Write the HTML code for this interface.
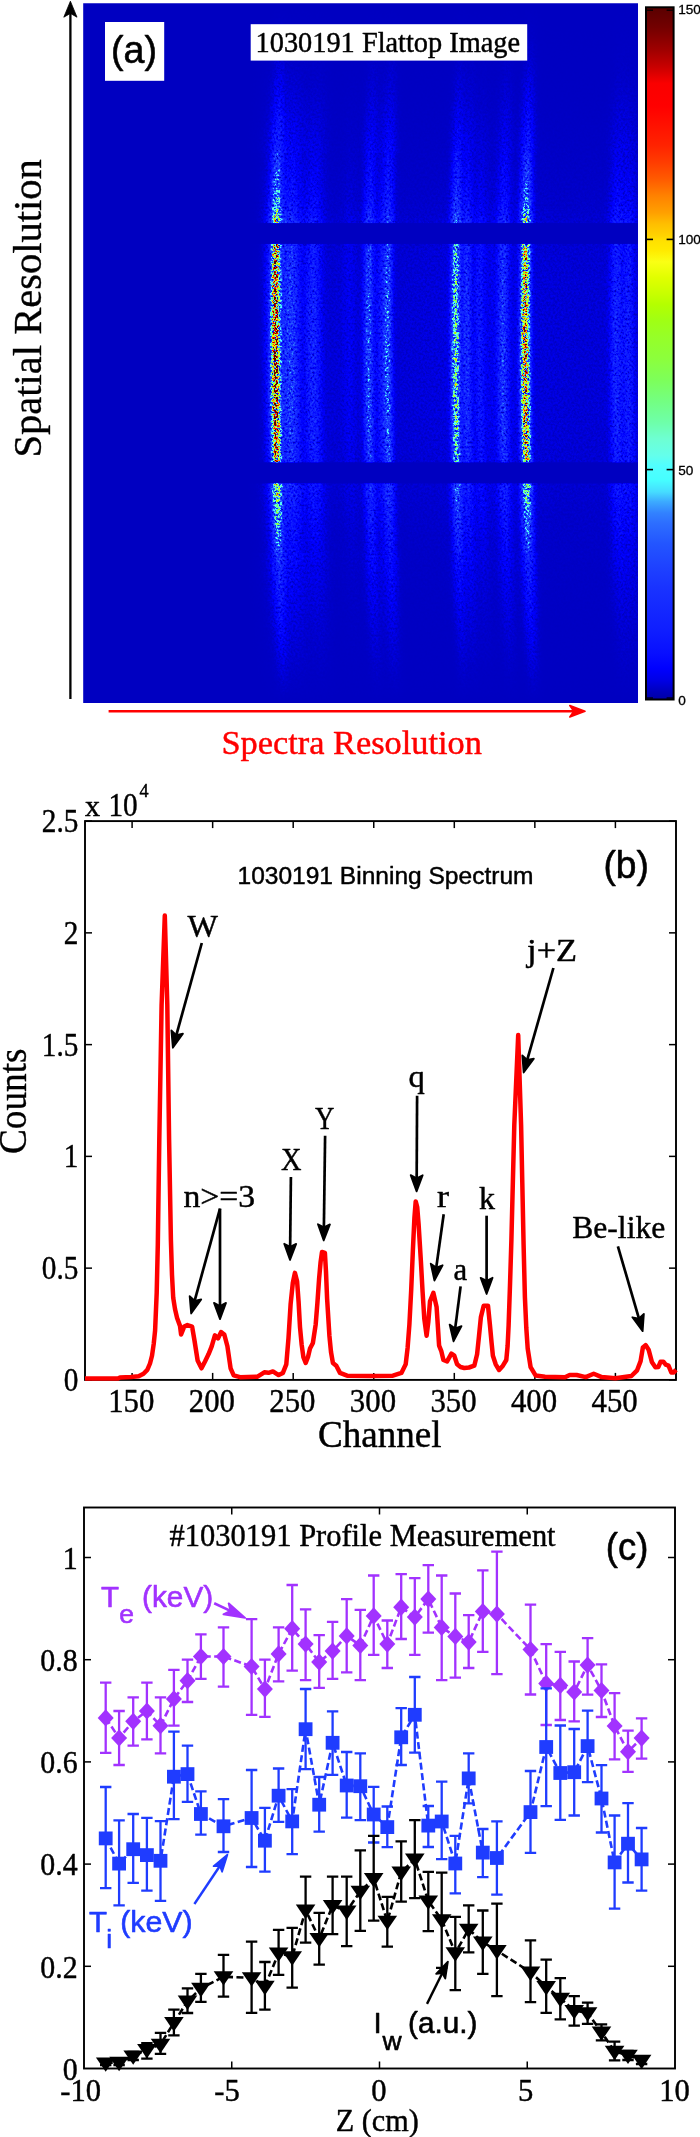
<!DOCTYPE html>
<html><head><meta charset="utf-8"><title>figure</title>
<style>html,body{margin:0;padding:0;background:#fff}svg{display:block;will-change:transform}</style></head><body>
<svg width="700" height="2137" viewBox="0 0 700 2137">
<rect x="0" y="0" width="700" height="2137" fill="#fff"/>
<defs>
<linearGradient id="gS" gradientUnits="userSpaceOnUse" x1="83.2" y1="0" x2="638" y2="0">
<stop offset="0.0000" stop-color="#000000"/>
<stop offset="0.3019" stop-color="#010101"/>
<stop offset="0.3127" stop-color="#060606"/>
<stop offset="0.3199" stop-color="#111111"/>
<stop offset="0.3235" stop-color="#1a1a1a"/>
<stop offset="0.3298" stop-color="#303030"/>
<stop offset="0.3326" stop-color="#3e3e3e"/>
<stop offset="0.3344" stop-color="#4c4c4c"/>
<stop offset="0.3362" stop-color="#606060"/>
<stop offset="0.3380" stop-color="#7b7b7b"/>
<stop offset="0.3416" stop-color="#b8b8b8"/>
<stop offset="0.3434" stop-color="#d2d2d2"/>
<stop offset="0.3443" stop-color="#dbdbdb"/>
<stop offset="0.3452" stop-color="#e2e2e2"/>
<stop offset="0.3461" stop-color="#e5e5e5"/>
<stop offset="0.3470" stop-color="#e5e5e5"/>
<stop offset="0.3479" stop-color="#e1e1e1"/>
<stop offset="0.3488" stop-color="#dbdbdb"/>
<stop offset="0.3497" stop-color="#d1d1d1"/>
<stop offset="0.3515" stop-color="#b7b7b7"/>
<stop offset="0.3551" stop-color="#7f7f7f"/>
<stop offset="0.3569" stop-color="#696969"/>
<stop offset="0.3587" stop-color="#5c5c5c"/>
<stop offset="0.3605" stop-color="#565656"/>
<stop offset="0.3632" stop-color="#555555"/>
<stop offset="0.3722" stop-color="#606060"/>
<stop offset="0.3767" stop-color="#5f5f5f"/>
<stop offset="0.3812" stop-color="#565656"/>
<stop offset="0.3920" stop-color="#333333"/>
<stop offset="0.3956" stop-color="#2d2d2d"/>
<stop offset="0.3992" stop-color="#303030"/>
<stop offset="0.4101" stop-color="#4a4a4a"/>
<stop offset="0.4146" stop-color="#4e4e4e"/>
<stop offset="0.4191" stop-color="#494949"/>
<stop offset="0.4254" stop-color="#383838"/>
<stop offset="0.4326" stop-color="#232323"/>
<stop offset="0.4380" stop-color="#1a1a1a"/>
<stop offset="0.4470" stop-color="#171717"/>
<stop offset="0.4632" stop-color="#191919"/>
<stop offset="0.4776" stop-color="#262626"/>
<stop offset="0.4831" stop-color="#252525"/>
<stop offset="0.4939" stop-color="#1a1a1a"/>
<stop offset="0.4975" stop-color="#1a1a1a"/>
<stop offset="0.5002" stop-color="#1f1f1f"/>
<stop offset="0.5029" stop-color="#2a2a2a"/>
<stop offset="0.5065" stop-color="#424242"/>
<stop offset="0.5101" stop-color="#5b5b5b"/>
<stop offset="0.5119" stop-color="#646464"/>
<stop offset="0.5137" stop-color="#686868"/>
<stop offset="0.5155" stop-color="#686868"/>
<stop offset="0.5173" stop-color="#626262"/>
<stop offset="0.5200" stop-color="#535353"/>
<stop offset="0.5236" stop-color="#3b3b3b"/>
<stop offset="0.5254" stop-color="#333333"/>
<stop offset="0.5272" stop-color="#2f2f2f"/>
<stop offset="0.5299" stop-color="#323232"/>
<stop offset="0.5380" stop-color="#464646"/>
<stop offset="0.5407" stop-color="#525252"/>
<stop offset="0.5452" stop-color="#6b6b6b"/>
<stop offset="0.5470" stop-color="#707070"/>
<stop offset="0.5488" stop-color="#707070"/>
<stop offset="0.5506" stop-color="#6b6b6b"/>
<stop offset="0.5534" stop-color="#5a5a5a"/>
<stop offset="0.5588" stop-color="#303030"/>
<stop offset="0.5615" stop-color="#212121"/>
<stop offset="0.5642" stop-color="#1a1a1a"/>
<stop offset="0.5696" stop-color="#171717"/>
<stop offset="0.6408" stop-color="#1b1b1b"/>
<stop offset="0.6534" stop-color="#1d1d1d"/>
<stop offset="0.6561" stop-color="#212121"/>
<stop offset="0.6579" stop-color="#282828"/>
<stop offset="0.6597" stop-color="#333333"/>
<stop offset="0.6615" stop-color="#444444"/>
<stop offset="0.6669" stop-color="#818181"/>
<stop offset="0.6687" stop-color="#909090"/>
<stop offset="0.6696" stop-color="#959595"/>
<stop offset="0.6705" stop-color="#979797"/>
<stop offset="0.6714" stop-color="#989898"/>
<stop offset="0.6723" stop-color="#969696"/>
<stop offset="0.6741" stop-color="#8b8b8b"/>
<stop offset="0.6759" stop-color="#7b7b7b"/>
<stop offset="0.6795" stop-color="#555555"/>
<stop offset="0.6813" stop-color="#484848"/>
<stop offset="0.6822" stop-color="#454545"/>
<stop offset="0.6840" stop-color="#454545"/>
<stop offset="0.6894" stop-color="#565656"/>
<stop offset="0.6921" stop-color="#565656"/>
<stop offset="0.6948" stop-color="#4e4e4e"/>
<stop offset="0.7003" stop-color="#353535"/>
<stop offset="0.7030" stop-color="#2e2e2e"/>
<stop offset="0.7057" stop-color="#2f2f2f"/>
<stop offset="0.7120" stop-color="#3c3c3c"/>
<stop offset="0.7156" stop-color="#3e3e3e"/>
<stop offset="0.7192" stop-color="#383838"/>
<stop offset="0.7255" stop-color="#292929"/>
<stop offset="0.7309" stop-color="#252525"/>
<stop offset="0.7390" stop-color="#262626"/>
<stop offset="0.7426" stop-color="#2c2c2c"/>
<stop offset="0.7462" stop-color="#383838"/>
<stop offset="0.7525" stop-color="#565656"/>
<stop offset="0.7552" stop-color="#5d5d5d"/>
<stop offset="0.7579" stop-color="#5c5c5c"/>
<stop offset="0.7606" stop-color="#545454"/>
<stop offset="0.7678" stop-color="#313131"/>
<stop offset="0.7714" stop-color="#262626"/>
<stop offset="0.7760" stop-color="#212121"/>
<stop offset="0.7796" stop-color="#232323"/>
<stop offset="0.7814" stop-color="#282828"/>
<stop offset="0.7832" stop-color="#323232"/>
<stop offset="0.7850" stop-color="#424242"/>
<stop offset="0.7868" stop-color="#595959"/>
<stop offset="0.7922" stop-color="#acacac"/>
<stop offset="0.7940" stop-color="#c1c1c1"/>
<stop offset="0.7949" stop-color="#c8c8c8"/>
<stop offset="0.7958" stop-color="#cdcdcd"/>
<stop offset="0.7967" stop-color="#cecece"/>
<stop offset="0.7976" stop-color="#cdcdcd"/>
<stop offset="0.7985" stop-color="#c8c8c8"/>
<stop offset="0.7994" stop-color="#c1c1c1"/>
<stop offset="0.8012" stop-color="#acacac"/>
<stop offset="0.8039" stop-color="#828282"/>
<stop offset="0.8066" stop-color="#585858"/>
<stop offset="0.8084" stop-color="#414141"/>
<stop offset="0.8102" stop-color="#2f2f2f"/>
<stop offset="0.8120" stop-color="#242424"/>
<stop offset="0.8147" stop-color="#1d1d1d"/>
<stop offset="0.8228" stop-color="#1a1a1a"/>
<stop offset="0.9003" stop-color="#171717"/>
<stop offset="0.9391" stop-color="#181818"/>
<stop offset="0.9436" stop-color="#1c1c1c"/>
<stop offset="0.9472" stop-color="#252525"/>
<stop offset="0.9562" stop-color="#484848"/>
<stop offset="0.9589" stop-color="#4d4d4d"/>
<stop offset="0.9616" stop-color="#4d4d4d"/>
<stop offset="0.9652" stop-color="#474747"/>
<stop offset="0.9697" stop-color="#3b3b3b"/>
<stop offset="0.9724" stop-color="#393939"/>
<stop offset="0.9769" stop-color="#404040"/>
<stop offset="0.9814" stop-color="#454545"/>
<stop offset="0.9850" stop-color="#424242"/>
<stop offset="0.9895" stop-color="#353535"/>
<stop offset="0.9959" stop-color="#212121"/>
<stop offset="0.9995" stop-color="#1a1a1a"/>
</linearGradient>
<linearGradient id="gS2" gradientUnits="userSpaceOnUse" x1="83.2" y1="0" x2="638" y2="0">
<stop offset="0.0000" stop-color="#000000"/>
<stop offset="0.2929" stop-color="#010101"/>
<stop offset="0.3055" stop-color="#060606"/>
<stop offset="0.3145" stop-color="#111111"/>
<stop offset="0.3226" stop-color="#212121"/>
<stop offset="0.3280" stop-color="#343434"/>
<stop offset="0.3307" stop-color="#424242"/>
<stop offset="0.3335" stop-color="#575757"/>
<stop offset="0.3362" stop-color="#747474"/>
<stop offset="0.3416" stop-color="#b8b8b8"/>
<stop offset="0.3434" stop-color="#cacaca"/>
<stop offset="0.3452" stop-color="#d4d4d4"/>
<stop offset="0.3461" stop-color="#d7d7d7"/>
<stop offset="0.3470" stop-color="#d7d7d7"/>
<stop offset="0.3479" stop-color="#d5d5d5"/>
<stop offset="0.3497" stop-color="#cbcbcb"/>
<stop offset="0.3515" stop-color="#bababa"/>
<stop offset="0.3560" stop-color="#878787"/>
<stop offset="0.3578" stop-color="#777777"/>
<stop offset="0.3596" stop-color="#6b6b6b"/>
<stop offset="0.3614" stop-color="#656565"/>
<stop offset="0.3641" stop-color="#616161"/>
<stop offset="0.3740" stop-color="#636363"/>
<stop offset="0.3794" stop-color="#5d5d5d"/>
<stop offset="0.3875" stop-color="#4a4a4a"/>
<stop offset="0.3929" stop-color="#3e3e3e"/>
<stop offset="0.3974" stop-color="#3b3b3b"/>
<stop offset="0.4028" stop-color="#414141"/>
<stop offset="0.4110" stop-color="#4d4d4d"/>
<stop offset="0.4155" stop-color="#4e4e4e"/>
<stop offset="0.4209" stop-color="#474747"/>
<stop offset="0.4362" stop-color="#232323"/>
<stop offset="0.4425" stop-color="#1a1a1a"/>
<stop offset="0.4524" stop-color="#171717"/>
<stop offset="0.4632" stop-color="#1a1a1a"/>
<stop offset="0.4767" stop-color="#262626"/>
<stop offset="0.4831" stop-color="#252525"/>
<stop offset="0.4939" stop-color="#1d1d1d"/>
<stop offset="0.4975" stop-color="#202020"/>
<stop offset="0.5002" stop-color="#292929"/>
<stop offset="0.5038" stop-color="#3b3b3b"/>
<stop offset="0.5092" stop-color="#5b5b5b"/>
<stop offset="0.5119" stop-color="#656565"/>
<stop offset="0.5146" stop-color="#696969"/>
<stop offset="0.5173" stop-color="#646464"/>
<stop offset="0.5209" stop-color="#555555"/>
<stop offset="0.5254" stop-color="#404040"/>
<stop offset="0.5281" stop-color="#3a3a3a"/>
<stop offset="0.5308" stop-color="#3b3b3b"/>
<stop offset="0.5344" stop-color="#434343"/>
<stop offset="0.5389" stop-color="#545454"/>
<stop offset="0.5443" stop-color="#6c6c6c"/>
<stop offset="0.5470" stop-color="#717171"/>
<stop offset="0.5497" stop-color="#6f6f6f"/>
<stop offset="0.5525" stop-color="#656565"/>
<stop offset="0.5561" stop-color="#4f4f4f"/>
<stop offset="0.5606" stop-color="#313131"/>
<stop offset="0.5633" stop-color="#242424"/>
<stop offset="0.5660" stop-color="#1c1c1c"/>
<stop offset="0.5705" stop-color="#181818"/>
<stop offset="0.6309" stop-color="#1a1a1a"/>
<stop offset="0.6507" stop-color="#1d1d1d"/>
<stop offset="0.6543" stop-color="#232323"/>
<stop offset="0.6570" stop-color="#2e2e2e"/>
<stop offset="0.6597" stop-color="#404040"/>
<stop offset="0.6660" stop-color="#777777"/>
<stop offset="0.6678" stop-color="#838383"/>
<stop offset="0.6696" stop-color="#8b8b8b"/>
<stop offset="0.6714" stop-color="#8d8d8d"/>
<stop offset="0.6732" stop-color="#898989"/>
<stop offset="0.6759" stop-color="#7b7b7b"/>
<stop offset="0.6804" stop-color="#5c5c5c"/>
<stop offset="0.6822" stop-color="#555555"/>
<stop offset="0.6840" stop-color="#525252"/>
<stop offset="0.6903" stop-color="#585858"/>
<stop offset="0.6930" stop-color="#565656"/>
<stop offset="0.6966" stop-color="#4b4b4b"/>
<stop offset="0.7012" stop-color="#3b3b3b"/>
<stop offset="0.7039" stop-color="#363636"/>
<stop offset="0.7075" stop-color="#373737"/>
<stop offset="0.7138" stop-color="#3e3e3e"/>
<stop offset="0.7183" stop-color="#3b3b3b"/>
<stop offset="0.7282" stop-color="#292929"/>
<stop offset="0.7336" stop-color="#262626"/>
<stop offset="0.7381" stop-color="#292929"/>
<stop offset="0.7417" stop-color="#303030"/>
<stop offset="0.7471" stop-color="#444444"/>
<stop offset="0.7516" stop-color="#565656"/>
<stop offset="0.7543" stop-color="#5c5c5c"/>
<stop offset="0.7570" stop-color="#5d5d5d"/>
<stop offset="0.7597" stop-color="#595959"/>
<stop offset="0.7633" stop-color="#4d4d4d"/>
<stop offset="0.7705" stop-color="#303030"/>
<stop offset="0.7742" stop-color="#272727"/>
<stop offset="0.7769" stop-color="#262626"/>
<stop offset="0.7796" stop-color="#2c2c2c"/>
<stop offset="0.7814" stop-color="#353535"/>
<stop offset="0.7832" stop-color="#434343"/>
<stop offset="0.7859" stop-color="#5f5f5f"/>
<stop offset="0.7913" stop-color="#9f9f9f"/>
<stop offset="0.7931" stop-color="#b0b0b0"/>
<stop offset="0.7949" stop-color="#bbbbbb"/>
<stop offset="0.7967" stop-color="#bebebe"/>
<stop offset="0.7985" stop-color="#bbbbbb"/>
<stop offset="0.8003" stop-color="#b0b0b0"/>
<stop offset="0.8021" stop-color="#9f9f9f"/>
<stop offset="0.8057" stop-color="#747474"/>
<stop offset="0.8084" stop-color="#535353"/>
<stop offset="0.8111" stop-color="#393939"/>
<stop offset="0.8129" stop-color="#2d2d2d"/>
<stop offset="0.8156" stop-color="#212121"/>
<stop offset="0.8192" stop-color="#1c1c1c"/>
<stop offset="0.8562" stop-color="#181818"/>
<stop offset="0.9346" stop-color="#181818"/>
<stop offset="0.9400" stop-color="#1c1c1c"/>
<stop offset="0.9445" stop-color="#252525"/>
<stop offset="0.9553" stop-color="#484848"/>
<stop offset="0.9589" stop-color="#4e4e4e"/>
<stop offset="0.9625" stop-color="#4e4e4e"/>
<stop offset="0.9715" stop-color="#444444"/>
<stop offset="0.9778" stop-color="#454545"/>
<stop offset="0.9832" stop-color="#454545"/>
<stop offset="0.9877" stop-color="#3e3e3e"/>
<stop offset="0.9986" stop-color="#212121"/>
<stop offset="0.9995" stop-color="#1f1f1f"/>
</linearGradient>
<linearGradient id="gS3" gradientUnits="userSpaceOnUse" x1="83.2" y1="0" x2="638" y2="0">
<stop offset="0.0000" stop-color="#000000"/>
<stop offset="0.2839" stop-color="#010101"/>
<stop offset="0.2983" stop-color="#060606"/>
<stop offset="0.3091" stop-color="#111111"/>
<stop offset="0.3190" stop-color="#222222"/>
<stop offset="0.3244" stop-color="#313131"/>
<stop offset="0.3289" stop-color="#434343"/>
<stop offset="0.3317" stop-color="#535353"/>
<stop offset="0.3353" stop-color="#707070"/>
<stop offset="0.3407" stop-color="#a1a1a1"/>
<stop offset="0.3434" stop-color="#b3b3b3"/>
<stop offset="0.3452" stop-color="#bababa"/>
<stop offset="0.3470" stop-color="#bcbcbc"/>
<stop offset="0.3488" stop-color="#b9b9b9"/>
<stop offset="0.3515" stop-color="#acacac"/>
<stop offset="0.3578" stop-color="#808080"/>
<stop offset="0.3605" stop-color="#737373"/>
<stop offset="0.3632" stop-color="#6c6c6c"/>
<stop offset="0.3686" stop-color="#686868"/>
<stop offset="0.3767" stop-color="#646464"/>
<stop offset="0.3857" stop-color="#565656"/>
<stop offset="0.3938" stop-color="#494949"/>
<stop offset="0.3992" stop-color="#474747"/>
<stop offset="0.4128" stop-color="#4f4f4f"/>
<stop offset="0.4191" stop-color="#4c4c4c"/>
<stop offset="0.4263" stop-color="#3f3f3f"/>
<stop offset="0.4389" stop-color="#252525"/>
<stop offset="0.4461" stop-color="#1b1b1b"/>
<stop offset="0.4542" stop-color="#191919"/>
<stop offset="0.4641" stop-color="#1d1d1d"/>
<stop offset="0.4767" stop-color="#262626"/>
<stop offset="0.4849" stop-color="#252525"/>
<stop offset="0.4921" stop-color="#222222"/>
<stop offset="0.4957" stop-color="#252525"/>
<stop offset="0.4993" stop-color="#2f2f2f"/>
<stop offset="0.5056" stop-color="#4e4e4e"/>
<stop offset="0.5101" stop-color="#616161"/>
<stop offset="0.5128" stop-color="#686868"/>
<stop offset="0.5155" stop-color="#696969"/>
<stop offset="0.5182" stop-color="#646464"/>
<stop offset="0.5263" stop-color="#494949"/>
<stop offset="0.5290" stop-color="#454545"/>
<stop offset="0.5317" stop-color="#464646"/>
<stop offset="0.5353" stop-color="#4f4f4f"/>
<stop offset="0.5434" stop-color="#6d6d6d"/>
<stop offset="0.5461" stop-color="#727272"/>
<stop offset="0.5488" stop-color="#727272"/>
<stop offset="0.5516" stop-color="#6c6c6c"/>
<stop offset="0.5552" stop-color="#5c5c5c"/>
<stop offset="0.5624" stop-color="#333333"/>
<stop offset="0.5660" stop-color="#242424"/>
<stop offset="0.5696" stop-color="#1b1b1b"/>
<stop offset="0.5750" stop-color="#181818"/>
<stop offset="0.6372" stop-color="#1a1a1a"/>
<stop offset="0.6489" stop-color="#1e1e1e"/>
<stop offset="0.6525" stop-color="#232323"/>
<stop offset="0.6561" stop-color="#2f2f2f"/>
<stop offset="0.6597" stop-color="#434343"/>
<stop offset="0.6651" stop-color="#656565"/>
<stop offset="0.6678" stop-color="#727272"/>
<stop offset="0.6705" stop-color="#787878"/>
<stop offset="0.6732" stop-color="#777777"/>
<stop offset="0.6768" stop-color="#6c6c6c"/>
<stop offset="0.6813" stop-color="#5d5d5d"/>
<stop offset="0.6840" stop-color="#595959"/>
<stop offset="0.6912" stop-color="#595959"/>
<stop offset="0.6948" stop-color="#545454"/>
<stop offset="0.7030" stop-color="#3f3f3f"/>
<stop offset="0.7066" stop-color="#3c3c3c"/>
<stop offset="0.7156" stop-color="#3e3e3e"/>
<stop offset="0.7210" stop-color="#383838"/>
<stop offset="0.7291" stop-color="#2b2b2b"/>
<stop offset="0.7336" stop-color="#292929"/>
<stop offset="0.7381" stop-color="#2e2e2e"/>
<stop offset="0.7426" stop-color="#3a3a3a"/>
<stop offset="0.7507" stop-color="#555555"/>
<stop offset="0.7543" stop-color="#5c5c5c"/>
<stop offset="0.7579" stop-color="#5c5c5c"/>
<stop offset="0.7615" stop-color="#565656"/>
<stop offset="0.7687" stop-color="#3d3d3d"/>
<stop offset="0.7733" stop-color="#303030"/>
<stop offset="0.7760" stop-color="#2d2d2d"/>
<stop offset="0.7787" stop-color="#323232"/>
<stop offset="0.7814" stop-color="#3f3f3f"/>
<stop offset="0.7841" stop-color="#525252"/>
<stop offset="0.7904" stop-color="#878787"/>
<stop offset="0.7931" stop-color="#989898"/>
<stop offset="0.7949" stop-color="#9e9e9e"/>
<stop offset="0.7967" stop-color="#a1a1a1"/>
<stop offset="0.7985" stop-color="#9e9e9e"/>
<stop offset="0.8003" stop-color="#989898"/>
<stop offset="0.8030" stop-color="#868686"/>
<stop offset="0.8111" stop-color="#424242"/>
<stop offset="0.8138" stop-color="#313131"/>
<stop offset="0.8165" stop-color="#252525"/>
<stop offset="0.8201" stop-color="#1d1d1d"/>
<stop offset="0.8282" stop-color="#1a1a1a"/>
<stop offset="0.9111" stop-color="#171717"/>
<stop offset="0.9319" stop-color="#181818"/>
<stop offset="0.9382" stop-color="#1e1e1e"/>
<stop offset="0.9445" stop-color="#2c2c2c"/>
<stop offset="0.9544" stop-color="#484848"/>
<stop offset="0.9589" stop-color="#4f4f4f"/>
<stop offset="0.9643" stop-color="#505050"/>
<stop offset="0.9760" stop-color="#4a4a4a"/>
<stop offset="0.9832" stop-color="#474747"/>
<stop offset="0.9886" stop-color="#3f3f3f"/>
<stop offset="0.9995" stop-color="#242424"/>
</linearGradient>
<linearGradient id="gV" gradientUnits="userSpaceOnUse" x1="0" y1="3.3" x2="0" y2="702.9">
<stop offset="0.0000" stop-color="#000" stop-opacity="1.000"/>
<stop offset="0.0810" stop-color="#000" stop-opacity="0.878"/>
<stop offset="0.1382" stop-color="#000" stop-opacity="0.755"/>
<stop offset="0.2097" stop-color="#000" stop-opacity="0.576"/>
<stop offset="0.2597" stop-color="#000" stop-opacity="0.452"/>
<stop offset="0.2883" stop-color="#000" stop-opacity="0.352"/>
<stop offset="0.3026" stop-color="#000" stop-opacity="0.252"/>
<stop offset="0.3126" stop-color="#000" stop-opacity="0.151"/>
<stop offset="0.3526" stop-color="#000" stop-opacity="0.106"/>
<stop offset="0.4241" stop-color="#000" stop-opacity="0.025"/>
<stop offset="0.4956" stop-color="#000" stop-opacity="0.000"/>
<stop offset="0.5956" stop-color="#000" stop-opacity="0.020"/>
<stop offset="0.6557" stop-color="#000" stop-opacity="0.106"/>
<stop offset="0.6900" stop-color="#000" stop-opacity="0.200"/>
<stop offset="0.7386" stop-color="#000" stop-opacity="0.368"/>
<stop offset="0.7814" stop-color="#000" stop-opacity="0.490"/>
<stop offset="0.8243" stop-color="#000" stop-opacity="0.600"/>
<stop offset="0.8815" stop-color="#000" stop-opacity="0.717"/>
<stop offset="0.9387" stop-color="#000" stop-opacity="0.827"/>
<stop offset="0.9816" stop-color="#000" stop-opacity="0.929"/>
<stop offset="1.0000" stop-color="#000" stop-opacity="1.000"/>
</linearGradient>
<filter id="jet" filterUnits="userSpaceOnUse" x="79.2" y="-0.7" width="562.8" height="707.6" color-interpolation-filters="sRGB">
<feTurbulence type="fractalNoise" baseFrequency="0.47 0.43" numOctaves="2" seed="7" result="n"/>
<feColorMatrix in="n" type="matrix" values="2.0 0 0 0 -0.5  2.0 0 0 0 -0.5  2.0 0 0 0 -0.5  0 0 0 0 1" result="ng"/>
<feComponentTransfer in="ng" result="ns"><feFuncR type="gamma" exponent="0.5"/><feFuncG type="gamma" exponent="0.5"/><feFuncB type="gamma" exponent="0.5"/></feComponentTransfer>
<feComposite in="SourceGraphic" in2="ns" operator="arithmetic" k1="1" k2="0" k3="0" k4="0" result="m"/>
<feComponentTransfer in="m">
<feFuncR type="table" tableValues="0.000 0.000 0.000 0.000 0.000 0.000 0.000 0.000 0.000 0.000 0.000 0.000 0.000 0.000 0.000 0.000 0.000 0.000 0.000 0.000 0.000 0.000 0.000 0.000 0.000 0.000 0.000 0.000 0.000 0.000 0.000 0.000 0.000 0.003 0.006 0.009 0.012 0.015 0.018 0.022 0.025 0.029 0.032 0.034 0.036 0.039 0.041 0.043 0.046 0.048 0.051 0.053 0.056 0.059 0.061 0.063 0.065 0.068 0.070 0.072 0.075 0.077 0.080 0.082 0.085 0.087 0.090 0.093 0.095 0.098 0.101 0.104 0.107 0.109 0.112 0.115 0.118 0.121 0.124 0.126 0.129 0.132 0.135 0.138 0.144 0.151 0.158 0.165 0.172 0.179 0.186 0.194 0.205 0.219 0.234 0.250 0.266 0.275 0.275 0.275 0.281 0.293 0.305 0.323 0.356 0.390 0.402 0.413 0.424 0.431 0.431 0.431 0.431 0.435 0.440 0.444 0.449 0.455 0.465 0.474 0.483 0.494 0.508 0.522 0.537 0.550 0.560 0.570 0.580 0.590 0.603 0.617 0.632 0.660 0.688 0.721 0.762 0.800 0.837 0.873 0.909 0.946 0.981 0.992 1.000 1.000 1.000 1.000 1.000 1.000 1.000 1.000 1.000 1.000 1.000 1.000 1.000 1.000 1.000 1.000 1.000 1.000 1.000 1.000 1.000 1.000 0.998 0.992 0.986 0.973 0.887 0.802 0.729 0.660 0.597 0.540 0.482 0.433 0.395 0.356 0.353 0.353 0.353 0.353 0.353 0.353 0.353 0.353 0.353 0.353 0.353 0.353 0.353 0.353 0.353 0.353 0.353 0.353 0.353 0.353 0.353 0.353 0.353 0.353 0.353 0.353 0.353 0.353 0.353 0.353 0.353 0.353 0.353 0.353 0.353 0.353 0.353 0.353 0.353 0.353 0.353 0.353 0.353 0.353 0.353 0.353 0.353 0.353 0.353 0.353 0.353 0.353 0.353 0.353 0.353 0.353 0.353 0.353 0.353 0.353 0.353 0.353 0.353 0.353 0.353 0.353 0.353 0.353 0.353 0.353 0.353 0.353 0.353 0.353 0.353 0.353"/>
<feFuncG type="table" tableValues="0.000 0.000 0.000 0.000 0.000 0.000 0.000 0.000 0.000 0.000 0.000 0.000 0.000 0.000 0.000 0.000 0.000 0.000 0.000 0.000 0.000 0.000 0.000 0.000 0.000 0.000 0.000 0.000 0.000 0.000 0.000 0.000 0.000 0.005 0.011 0.017 0.022 0.028 0.035 0.041 0.047 0.054 0.060 0.065 0.070 0.074 0.079 0.085 0.090 0.095 0.101 0.106 0.112 0.117 0.122 0.126 0.131 0.135 0.140 0.145 0.149 0.154 0.159 0.164 0.169 0.174 0.180 0.185 0.190 0.196 0.204 0.213 0.221 0.230 0.239 0.248 0.257 0.268 0.279 0.290 0.300 0.312 0.323 0.335 0.351 0.368 0.386 0.403 0.421 0.443 0.471 0.500 0.547 0.603 0.660 0.738 0.820 0.885 0.931 0.977 1.000 1.000 1.000 1.000 1.000 1.000 1.000 1.000 1.000 1.000 1.000 1.000 1.000 1.000 1.000 1.000 1.000 1.000 1.000 1.000 1.000 1.000 1.000 1.000 1.000 1.000 1.000 1.000 1.000 1.000 1.000 1.000 1.000 1.000 1.000 1.000 1.000 1.000 1.000 1.000 1.000 1.000 0.997 0.954 0.915 0.890 0.837 0.791 0.749 0.684 0.620 0.575 0.529 0.475 0.416 0.356 0.309 0.262 0.218 0.178 0.138 0.114 0.090 0.067 0.042 0.017 0.000 0.000 0.000 0.000 0.000 0.000 0.000 0.000 0.000 0.000 0.000 0.000 0.000 0.000 0.000 0.000 0.000 0.000 0.000 0.000 0.000 0.000 0.000 0.000 0.000 0.000 0.000 0.000 0.000 0.000 0.000 0.000 0.000 0.000 0.000 0.000 0.000 0.000 0.000 0.000 0.000 0.000 0.000 0.000 0.000 0.000 0.000 0.000 0.000 0.000 0.000 0.000 0.000 0.000 0.000 0.000 0.000 0.000 0.000 0.000 0.000 0.000 0.000 0.000 0.000 0.000 0.000 0.000 0.000 0.000 0.000 0.000 0.000 0.000 0.000 0.000 0.000 0.000 0.000 0.000 0.000 0.000 0.000 0.000 0.000 0.000 0.000 0.000 0.000 0.000"/>
<feFuncB type="table" tableValues="0.760 0.760 0.761 0.763 0.765 0.767 0.771 0.775 0.779 0.784 0.790 0.796 0.803 0.811 0.819 0.828 0.837 0.847 0.858 0.869 0.880 0.893 0.904 0.912 0.921 0.929 0.938 0.948 0.957 0.968 0.978 0.989 1.000 1.000 1.000 1.000 1.000 1.000 1.000 1.000 1.000 1.000 1.000 1.000 1.000 1.000 1.000 1.000 1.000 1.000 1.000 1.000 1.000 1.000 1.000 1.000 1.000 1.000 1.000 1.000 1.000 1.000 1.000 1.000 1.000 1.000 1.000 1.000 1.000 1.000 1.000 1.000 1.000 1.000 1.000 1.000 1.000 1.000 1.000 1.000 1.000 1.000 1.000 1.000 1.000 1.000 1.000 1.000 1.000 1.000 1.000 1.000 1.000 1.000 1.000 1.000 1.000 1.000 1.000 1.000 1.000 1.000 1.000 0.991 0.957 0.924 0.897 0.870 0.843 0.810 0.764 0.718 0.671 0.635 0.600 0.564 0.528 0.492 0.455 0.418 0.381 0.346 0.318 0.289 0.260 0.233 0.213 0.193 0.173 0.153 0.126 0.100 0.074 0.046 0.018 0.000 0.000 0.000 0.000 0.000 0.022 0.051 0.075 0.032 0.000 0.000 0.000 0.000 0.000 0.000 0.000 0.000 0.000 0.000 0.000 0.000 0.000 0.000 0.000 0.000 0.000 0.000 0.000 0.000 0.000 0.000 0.000 0.000 0.000 0.000 0.000 0.000 0.000 0.000 0.000 0.000 0.000 0.000 0.000 0.000 0.000 0.000 0.000 0.000 0.000 0.000 0.000 0.000 0.000 0.000 0.000 0.000 0.000 0.000 0.000 0.000 0.000 0.000 0.000 0.000 0.000 0.000 0.000 0.000 0.000 0.000 0.000 0.000 0.000 0.000 0.000 0.000 0.000 0.000 0.000 0.000 0.000 0.000 0.000 0.000 0.000 0.000 0.000 0.000 0.000 0.000 0.000 0.000 0.000 0.000 0.000 0.000 0.000 0.000 0.000 0.000 0.000 0.000 0.000 0.000 0.000 0.000 0.000 0.000 0.000 0.000 0.000 0.000 0.000 0.000 0.000 0.000 0.000 0.000 0.000 0.000"/>
</feComponentTransfer>
</filter>
<clipPath id="hclip"><rect x="83.2" y="3.3" width="554.8" height="699.6"/></clipPath>
<linearGradient id="gC" gradientUnits="userSpaceOnUse" x1="0" y1="699.5" x2="0" y2="8">
<stop offset="0.0000" stop-color="#0000a5"/>
<stop offset="0.0120" stop-color="#0000be"/>
<stop offset="0.0280" stop-color="#0000e6"/>
<stop offset="0.0450" stop-color="#0000ff"/>
<stop offset="0.0670" stop-color="#080fff"/>
<stop offset="0.1000" stop-color="#0f1eff"/>
<stop offset="0.1300" stop-color="#1428ff"/>
<stop offset="0.1600" stop-color="#1932ff"/>
<stop offset="0.1900" stop-color="#1e41ff"/>
<stop offset="0.2250" stop-color="#2355ff"/>
<stop offset="0.2550" stop-color="#2d6eff"/>
<stop offset="0.2700" stop-color="#3282ff"/>
<stop offset="0.2860" stop-color="#3caaff"/>
<stop offset="0.3000" stop-color="#46dcff"/>
<stop offset="0.3180" stop-color="#46ffff"/>
<stop offset="0.3380" stop-color="#50ffff"/>
<stop offset="0.3530" stop-color="#64ffeb"/>
<stop offset="0.3770" stop-color="#6effd2"/>
<stop offset="0.4000" stop-color="#6effaa"/>
<stop offset="0.4310" stop-color="#73ff82"/>
<stop offset="0.4620" stop-color="#7dff5a"/>
<stop offset="0.4930" stop-color="#8cff3c"/>
<stop offset="0.5240" stop-color="#96ff28"/>
<stop offset="0.5480" stop-color="#a0ff14"/>
<stop offset="0.5710" stop-color="#b4ff00"/>
<stop offset="0.5870" stop-color="#c8ff00"/>
<stop offset="0.6100" stop-color="#e1ff00"/>
<stop offset="0.6330" stop-color="#faff14"/>
<stop offset="0.6490" stop-color="#ffeb00"/>
<stop offset="0.6630" stop-color="#ffe100"/>
<stop offset="0.6710" stop-color="#ffd200"/>
<stop offset="0.6880" stop-color="#ffbe00"/>
<stop offset="0.7040" stop-color="#ffa000"/>
<stop offset="0.7280" stop-color="#ff8200"/>
<stop offset="0.7530" stop-color="#ff5a00"/>
<stop offset="0.7770" stop-color="#ff3c00"/>
<stop offset="0.8010" stop-color="#ff2300"/>
<stop offset="0.8340" stop-color="#ff0f00"/>
<stop offset="0.8580" stop-color="#ff0000"/>
<stop offset="0.8910" stop-color="#fa0000"/>
<stop offset="0.9150" stop-color="#c80000"/>
<stop offset="0.9390" stop-color="#a00000"/>
<stop offset="0.9720" stop-color="#730000"/>
<stop offset="1.0000" stop-color="#5a0000"/>
</linearGradient>
</defs>
<g clip-path="url(#hclip)"><g filter="url(#jet)">
<rect x="79.2" y="-0.7" width="562.8" height="707.6" fill="#000"/>
<rect x="75.2" y="3" width="570.8" height="25.59" fill="url(#gS3)" transform="translate(6.3,0)"/>
<rect x="75.2" y="27.99" width="570.8" height="25.59" fill="url(#gS3)" transform="translate(5.33,0)"/>
<rect x="75.2" y="52.97" width="570.8" height="25.59" fill="url(#gS3)" transform="translate(4.45,0)"/>
<rect x="75.2" y="77.96" width="570.8" height="25.59" fill="url(#gS3)" transform="translate(3.65,0)"/>
<rect x="75.2" y="102.94" width="570.8" height="25.59" fill="url(#gS3)" transform="translate(2.93,0)"/>
<rect x="75.2" y="127.93" width="570.8" height="25.59" fill="url(#gS3)" transform="translate(2.28,0)"/>
<rect x="75.2" y="152.91" width="570.8" height="25.59" fill="url(#gS2)" transform="translate(1.72,0)"/>
<rect x="75.2" y="177.9" width="570.8" height="25.59" fill="url(#gS2)" transform="translate(1.24,0)"/>
<rect x="75.2" y="202.89" width="570.8" height="25.59" fill="url(#gS2)" transform="translate(0.83,0)"/>
<rect x="75.2" y="227.87" width="570.8" height="25.59" fill="url(#gS)" transform="translate(0.51,0)"/>
<rect x="75.2" y="252.86" width="570.8" height="25.59" fill="url(#gS)" transform="translate(0.26,0)"/>
<rect x="75.2" y="277.84" width="570.8" height="25.59" fill="url(#gS)" transform="translate(0.1,0)"/>
<rect x="75.2" y="302.83" width="570.8" height="25.59" fill="url(#gS)" transform="translate(0.01,0)"/>
<rect x="75.2" y="327.81" width="570.8" height="25.59" fill="url(#gS)" transform="translate(0.01,0)"/>
<rect x="75.2" y="352.8" width="570.8" height="25.59" fill="url(#gS)" transform="translate(0.08,0)"/>
<rect x="75.2" y="377.79" width="570.8" height="25.59" fill="url(#gS)" transform="translate(0.23,0)"/>
<rect x="75.2" y="402.77" width="570.8" height="25.59" fill="url(#gS)" transform="translate(0.47,0)"/>
<rect x="75.2" y="427.76" width="570.8" height="25.59" fill="url(#gS)" transform="translate(0.78,0)"/>
<rect x="75.2" y="452.74" width="570.8" height="25.59" fill="url(#gS)" transform="translate(1.17,0)"/>
<rect x="75.2" y="477.73" width="570.8" height="25.59" fill="url(#gS2)" transform="translate(1.64,0)"/>
<rect x="75.2" y="502.71" width="570.8" height="25.59" fill="url(#gS2)" transform="translate(2.19,0)"/>
<rect x="75.2" y="527.7" width="570.8" height="25.59" fill="url(#gS2)" transform="translate(2.83,0)"/>
<rect x="75.2" y="552.69" width="570.8" height="25.59" fill="url(#gS3)" transform="translate(3.54,0)"/>
<rect x="75.2" y="577.67" width="570.8" height="25.59" fill="url(#gS3)" transform="translate(4.33,0)"/>
<rect x="75.2" y="602.66" width="570.8" height="25.59" fill="url(#gS3)" transform="translate(5.2,0)"/>
<rect x="75.2" y="627.64" width="570.8" height="25.59" fill="url(#gS3)" transform="translate(6.15,0)"/>
<rect x="75.2" y="652.63" width="570.8" height="25.59" fill="url(#gS3)" transform="translate(7.18,0)"/>
<rect x="75.2" y="677.61" width="570.8" height="25.59" fill="url(#gS3)" transform="translate(8.28,0)"/>
<rect x="79.2" y="-0.7" width="562.8" height="707.6" fill="url(#gV)"/>
<rect x="79.2" y="223.2" width="562.8" height="20.6" fill="#000"/>
<rect x="79.2" y="462.5" width="562.8" height="20.8" fill="#000"/>
</g></g>
<rect x="105" y="22" width="59.2" height="58.8" fill="#fff"/>
<text x="111" y="62.8" font-family="'Liberation Sans', sans-serif" font-size="39" text-anchor="start" fill="#000" textLength="46" lengthAdjust="spacingAndGlyphs" stroke="#000" stroke-width="0.6" stroke-linejoin="round" >(a)</text>
<rect x="250.7" y="24.2" width="276.5" height="36.4" fill="#fff"/>
<text x="255.6" y="52.2" font-family="'Liberation Serif', serif" font-size="28.8" text-anchor="start" fill="#000" textLength="264.5" lengthAdjust="spacingAndGlyphs" stroke="#000" stroke-width="0.45" stroke-linejoin="round" >1030191 Flattop Image</text>
<line x1="70.4" y1="699" x2="70.4" y2="12" stroke="#000" stroke-width="2.3"/>
<polygon points="70.4,1.2 77,17.2 70.4,13.4 63.8,17.2" fill="#000" stroke="#000" stroke-width="0.8" stroke-linejoin="round"/>
<text transform="translate(40.5,457.6) rotate(-90)" font-family="'Liberation Serif', serif" font-size="39.5" textLength="298.5" lengthAdjust="spacingAndGlyphs" fill="#000" stroke="#000" stroke-width="0.35">Spatial Resolution</text>
<line x1="108.6" y1="711.3" x2="574" y2="711.3" stroke="#f00" stroke-width="2.6"/>
<polygon points="585,711.3 569.8,705.6 573.8,711.3 569.8,717" fill="#f00" stroke="#f00" stroke-width="1.6" stroke-linejoin="round"/>
<text x="221.4" y="754.4" font-family="'Liberation Serif', serif" font-size="34" text-anchor="start" fill="#f00" textLength="260.6" lengthAdjust="spacingAndGlyphs" stroke="#f00" stroke-width="0.45" stroke-linejoin="round" >Spectra Resolution</text>
<rect x="646" y="7.3" width="27.6" height="692.2" fill="url(#gC)" stroke="#000" stroke-width="2"/>
<line x1="646" y1="10.2" x2="653" y2="10.2" stroke="#000" stroke-width="1.2"/>
<line x1="666.6" y1="10.2" x2="673.6" y2="10.2" stroke="#000" stroke-width="1.2"/>
<text x="678.2" y="13.5" font-family="'Liberation Sans', sans-serif" font-size="13.6" text-anchor="start" fill="#000" stroke="#000" stroke-width="0.3">150</text>
<line x1="646" y1="239.4" x2="653" y2="239.4" stroke="#000" stroke-width="1.6"/>
<line x1="666.6" y1="239.4" x2="673.6" y2="239.4" stroke="#000" stroke-width="1.6"/>
<text x="678.2" y="244.3" font-family="'Liberation Sans', sans-serif" font-size="13.6" text-anchor="start" fill="#000" stroke="#000" stroke-width="0.3">100</text>
<line x1="646" y1="469.6" x2="653" y2="469.6" stroke="#000" stroke-width="1.6"/>
<line x1="666.6" y1="469.6" x2="673.6" y2="469.6" stroke="#000" stroke-width="1.6"/>
<text x="678.2" y="474.5" font-family="'Liberation Sans', sans-serif" font-size="13.6" text-anchor="start" fill="#000" stroke="#000" stroke-width="0.3">50</text>
<line x1="646" y1="698" x2="653" y2="698" stroke="#000" stroke-width="1.2"/>
<line x1="666.6" y1="698" x2="673.6" y2="698" stroke="#000" stroke-width="1.2"/>
<text x="678.2" y="704.7" font-family="'Liberation Sans', sans-serif" font-size="13.6" text-anchor="start" fill="#000" stroke="#000" stroke-width="0.3">0</text>
<g stroke="#000" stroke-width="1.5" fill="none">
<line x1="132.1" y1="1379.9" x2="132.1" y2="1372.9"/>
<line x1="132.1" y1="821.1" x2="132.1" y2="828.1"/>
<line x1="212.65" y1="1379.9" x2="212.65" y2="1372.9"/>
<line x1="212.65" y1="821.1" x2="212.65" y2="828.1"/>
<line x1="293.2" y1="1379.9" x2="293.2" y2="1372.9"/>
<line x1="293.2" y1="821.1" x2="293.2" y2="828.1"/>
<line x1="373.75" y1="1379.9" x2="373.75" y2="1372.9"/>
<line x1="373.75" y1="821.1" x2="373.75" y2="828.1"/>
<line x1="454.3" y1="1379.9" x2="454.3" y2="1372.9"/>
<line x1="454.3" y1="821.1" x2="454.3" y2="828.1"/>
<line x1="534.85" y1="1379.9" x2="534.85" y2="1372.9"/>
<line x1="534.85" y1="821.1" x2="534.85" y2="828.1"/>
<line x1="615.4" y1="1379.9" x2="615.4" y2="1372.9"/>
<line x1="615.4" y1="821.1" x2="615.4" y2="828.1"/>
<line x1="85" y1="1379.9" x2="92" y2="1379.9"/>
<line x1="676" y1="1379.9" x2="669" y2="1379.9"/>
<line x1="85" y1="1268.14" x2="92" y2="1268.14"/>
<line x1="676" y1="1268.14" x2="669" y2="1268.14"/>
<line x1="85" y1="1156.38" x2="92" y2="1156.38"/>
<line x1="676" y1="1156.38" x2="669" y2="1156.38"/>
<line x1="85" y1="1044.62" x2="92" y2="1044.62"/>
<line x1="676" y1="1044.62" x2="669" y2="1044.62"/>
<line x1="85" y1="932.86" x2="92" y2="932.86"/>
<line x1="676" y1="932.86" x2="669" y2="932.86"/>
<line x1="85" y1="821.1" x2="92" y2="821.1"/>
<line x1="676" y1="821.1" x2="669" y2="821.1"/>
</g>
<text x="0" y="0" font-family="'Liberation Serif', serif" font-size="33.5" text-anchor="middle" fill="#000" stroke="#000" stroke-width="0.45" stroke-linejoin="round"  transform="translate(131.3,1411.6) scale(0.92,1)">150</text>
<text x="0" y="0" font-family="'Liberation Serif', serif" font-size="33.5" text-anchor="middle" fill="#000" stroke="#000" stroke-width="0.45" stroke-linejoin="round"  transform="translate(211.85,1411.6) scale(0.92,1)">200</text>
<text x="0" y="0" font-family="'Liberation Serif', serif" font-size="33.5" text-anchor="middle" fill="#000" stroke="#000" stroke-width="0.45" stroke-linejoin="round"  transform="translate(292.4,1411.6) scale(0.92,1)">250</text>
<text x="0" y="0" font-family="'Liberation Serif', serif" font-size="33.5" text-anchor="middle" fill="#000" stroke="#000" stroke-width="0.45" stroke-linejoin="round"  transform="translate(372.95,1411.6) scale(0.92,1)">300</text>
<text x="0" y="0" font-family="'Liberation Serif', serif" font-size="33.5" text-anchor="middle" fill="#000" stroke="#000" stroke-width="0.45" stroke-linejoin="round"  transform="translate(453.5,1411.6) scale(0.92,1)">350</text>
<text x="0" y="0" font-family="'Liberation Serif', serif" font-size="33.5" text-anchor="middle" fill="#000" stroke="#000" stroke-width="0.45" stroke-linejoin="round"  transform="translate(534.05,1411.6) scale(0.92,1)">400</text>
<text x="0" y="0" font-family="'Liberation Serif', serif" font-size="33.5" text-anchor="middle" fill="#000" stroke="#000" stroke-width="0.45" stroke-linejoin="round"  transform="translate(614.6,1411.6) scale(0.92,1)">450</text>
<text x="0" y="0" font-family="'Liberation Serif', serif" font-size="33.6" text-anchor="end" fill="#000" stroke="#000" stroke-width="0.45" stroke-linejoin="round"  transform="translate(78.3,1390.9) scale(0.87,1)">0</text>
<text x="0" y="0" font-family="'Liberation Serif', serif" font-size="33.6" text-anchor="end" fill="#000" stroke="#000" stroke-width="0.45" stroke-linejoin="round"  transform="translate(78.3,1279.14) scale(0.87,1)">0.5</text>
<text x="0" y="0" font-family="'Liberation Serif', serif" font-size="33.6" text-anchor="end" fill="#000" stroke="#000" stroke-width="0.45" stroke-linejoin="round"  transform="translate(78.3,1167.38) scale(0.87,1)">1</text>
<text x="0" y="0" font-family="'Liberation Serif', serif" font-size="33.6" text-anchor="end" fill="#000" stroke="#000" stroke-width="0.45" stroke-linejoin="round"  transform="translate(78.3,1055.62) scale(0.87,1)">1.5</text>
<text x="0" y="0" font-family="'Liberation Serif', serif" font-size="33.6" text-anchor="end" fill="#000" stroke="#000" stroke-width="0.45" stroke-linejoin="round"  transform="translate(78.3,943.86) scale(0.87,1)">2</text>
<text x="0" y="0" font-family="'Liberation Serif', serif" font-size="33.6" text-anchor="end" fill="#000" stroke="#000" stroke-width="0.45" stroke-linejoin="round"  transform="translate(78.3,832.1) scale(0.87,1)">2.5</text>
<text x="85" y="815.6" font-family="'Liberation Serif', serif" font-size="30" text-anchor="start" fill="#000" stroke="#000" stroke-width="0.45" stroke-linejoin="round" >x</text>
<text x="0" y="0" font-family="'Liberation Serif', serif" font-size="33.6" text-anchor="start" fill="#000" stroke="#000" stroke-width="0.45" stroke-linejoin="round"  transform="translate(108.4,815.8) scale(0.87,1)">10</text>
<text x="0" y="0" font-family="'Liberation Serif', serif" font-size="19.5" text-anchor="start" fill="#000" stroke="#000" stroke-width="0.45" stroke-linejoin="round"  transform="translate(139.6,796.6) scale(0.93,1)">4</text>
<text x="237.5" y="884" font-family="'Liberation Sans', sans-serif" font-size="24.4" text-anchor="start" fill="#000" textLength="296" lengthAdjust="spacingAndGlyphs" stroke="#000" stroke-width="0.45" stroke-linejoin="round" >1030191 Binning Spectrum</text>
<text x="603.4" y="877.9" font-family="'Liberation Sans', sans-serif" font-size="38.2" text-anchor="start" fill="#000" textLength="45.4" lengthAdjust="spacingAndGlyphs" stroke="#000" stroke-width="0.6" stroke-linejoin="round" >(b)</text>
<text x="318" y="1447" font-family="'Liberation Serif', serif" font-size="37.2" text-anchor="start" fill="#000" textLength="123.6" lengthAdjust="spacingAndGlyphs" stroke="#000" stroke-width="0.45" stroke-linejoin="round" >Channel</text>
<text transform="translate(26.2,1154) rotate(-90)" font-family="'Liberation Serif', serif" font-size="40.6" textLength="105.5" lengthAdjust="spacingAndGlyphs" fill="#000" stroke="#000" stroke-width="0.35">Counts</text>
<rect x="85" y="821.1" width="591" height="558.8" fill="none" stroke="#000" stroke-width="1.9"/>
<polyline points="85,1378.4 118,1378.4 120,1377.4 131,1377 138.6,1376.3 143.5,1373.8 147.3,1369.9 150,1363.5 152,1355.7 153.7,1344 155.1,1330.6 156.7,1292.9 157.8,1245 159.3,1140 161.6,1005 164.8,915.6 167.3,1005 169.1,1140 170.9,1240 172,1275 173.2,1297.6 175,1309 177.1,1318 180,1325.9 181.1,1334.5 184.2,1326.6 187.4,1325.1 192.1,1326.6 194.4,1340 197.6,1360.4 201.5,1368.3 205,1361.5 208.6,1354.1 211.7,1346.3 214.9,1335.3 218,1338.4 221.1,1332.1 224.3,1334.5 227.4,1346.3 230.6,1368.3 233.7,1375.4 240,1377.2 257.1,1376.8 264.3,1372.3 268.5,1372.8 272.9,1371.4 278.6,1375.1 282.9,1372.9 286.3,1364.3 288.5,1338 290.6,1304.3 292.8,1283 294.9,1272.9 297.1,1281.4 298.6,1302 300,1327.1 301.7,1345 303.4,1357.1 305.7,1362.9 308,1357 310,1348.6 312.9,1342.9 315.7,1324.3 317.4,1303 319.1,1278.6 320.6,1262 322,1252 324.9,1252.9 326,1272 327.1,1298.6 329.4,1335.7 331,1352 332.9,1362.9 336.3,1365.7 340,1372.9 347.1,1375.7 370,1376 392.9,1375.7 401.4,1372.9 405.7,1364.3 407.6,1348 409.4,1324.3 411.2,1290 412.9,1250 414.4,1218 415.7,1201.4 417.2,1207 418.6,1224.3 420.9,1261.4 422.6,1292 424.3,1318.6 426.6,1335.7 428.3,1322 430,1301.4 433.4,1292.9 436.6,1307.1 437.9,1327 439.1,1345.7 441.4,1351.4 443.4,1360 447.1,1361.4 451.4,1353.7 454.3,1355.7 457.1,1364.3 460.5,1367 464.3,1368 469,1367.5 474.3,1365.7 477.1,1354.3 479,1336 480.9,1317.1 483.7,1305.7 488,1305.7 490,1325.7 491.5,1342 492.9,1355.7 495.7,1364.3 499.1,1370 502.9,1365.7 506.3,1360 507.6,1346 508.6,1325.7 510,1285 511.4,1240 514.3,1125 518.2,1035 521.1,1125 522.3,1182.9 523.6,1245 524.9,1297.1 526.3,1328 527.7,1348.6 530.6,1367.1 535.7,1375.6 545,1376.8 565,1377.2 569.7,1374.9 576.6,1375 585.7,1377.1 593.7,1373.7 601.7,1377.1 615.4,1378.3 631.4,1376 637.1,1370.3 640.6,1361.1 642.9,1347.4 645.6,1345.1 648.6,1349.7 652,1362.3 655.4,1367.3 658.4,1366.9 660.5,1361.8 663.4,1361.8 665.7,1364.6 668.5,1365.7 671.4,1372.6 673.7,1372.6 676,1369.8" fill="none" stroke="#f00" stroke-width="4.5" stroke-linejoin="round" stroke-linecap="butt"/>
<text x="187.4" y="936.6" font-family="'Liberation Serif', serif" font-size="31" text-anchor="start" fill="#000" textLength="30.4" lengthAdjust="spacingAndGlyphs" stroke="#000" stroke-width="0.45" stroke-linejoin="round" >W</text>
<text x="183.4" y="1207.1" font-family="'Liberation Serif', serif" font-size="31" text-anchor="start" fill="#000" textLength="71.7" lengthAdjust="spacingAndGlyphs" stroke="#000" stroke-width="0.45" stroke-linejoin="round" >n&gt;=3</text>
<text x="280.9" y="1170" font-family="'Liberation Serif', serif" font-size="31" text-anchor="start" fill="#000" textLength="20.5" lengthAdjust="spacingAndGlyphs" stroke="#000" stroke-width="0.45" stroke-linejoin="round" >X</text>
<text x="314.9" y="1128.6" font-family="'Liberation Serif', serif" font-size="31" text-anchor="start" fill="#000" textLength="19.4" lengthAdjust="spacingAndGlyphs" stroke="#000" stroke-width="0.45" stroke-linejoin="round" >Y</text>
<text x="408.6" y="1086.6" font-family="'Liberation Serif', serif" font-size="31" text-anchor="start" fill="#000" textLength="16.3" lengthAdjust="spacingAndGlyphs" stroke="#000" stroke-width="0.45" stroke-linejoin="round" >q</text>
<text x="437.1" y="1207.1" font-family="'Liberation Serif', serif" font-size="31" text-anchor="start" fill="#000" textLength="12" lengthAdjust="spacingAndGlyphs" stroke="#000" stroke-width="0.45" stroke-linejoin="round" >r</text>
<text x="453.4" y="1280" font-family="'Liberation Serif', serif" font-size="31" text-anchor="start" fill="#000" textLength="13.7" lengthAdjust="spacingAndGlyphs" stroke="#000" stroke-width="0.45" stroke-linejoin="round" >a</text>
<text x="479.1" y="1208.6" font-family="'Liberation Serif', serif" font-size="31" text-anchor="start" fill="#000" textLength="16" lengthAdjust="spacingAndGlyphs" stroke="#000" stroke-width="0.45" stroke-linejoin="round" >k</text>
<text x="527.1" y="961.4" font-family="'Liberation Serif', serif" font-size="31" text-anchor="start" fill="#000" textLength="50" lengthAdjust="spacingAndGlyphs" stroke="#000" stroke-width="0.45" stroke-linejoin="round" >j+Z</text>
<text x="572.3" y="1238" font-family="'Liberation Serif', serif" font-size="31" text-anchor="start" fill="#000" textLength="92.9" lengthAdjust="spacingAndGlyphs" stroke="#000" stroke-width="0.45" stroke-linejoin="round" >Be-like</text>
<line x1="201.8" y1="943" x2="176.05" y2="1036.11" stroke="#000" stroke-width="2.7"/><polygon points="172.84,1047.73 171.37,1030.52 176.34,1035.07 182.94,1033.72" fill="#000" stroke="#000" stroke-width="1.8" stroke-linejoin="round"/>
<line x1="220" y1="1208.6" x2="194.34" y2="1301.8" stroke="#000" stroke-width="2.7"/><polygon points="191.14,1313.43 189.65,1296.22 194.63,1300.76 201.22,1299.41" fill="#000" stroke="#000" stroke-width="1.8" stroke-linejoin="round"/>
<line x1="220" y1="1208.6" x2="220" y2="1307.04" stroke="#000" stroke-width="2.7"/><polygon points="220,1319.1 214,1302.9 220,1305.96 226,1302.9" fill="#000" stroke="#000" stroke-width="1.8" stroke-linejoin="round"/>
<line x1="290.9" y1="1177.1" x2="290.14" y2="1247.94" stroke="#000" stroke-width="2.7"/><polygon points="290.01,1260 284.18,1243.74 290.15,1246.86 296.18,1243.87" fill="#000" stroke="#000" stroke-width="1.8" stroke-linejoin="round"/>
<line x1="325.1" y1="1135.7" x2="323.87" y2="1228.44" stroke="#000" stroke-width="2.7"/><polygon points="323.71,1240.5 317.93,1224.22 323.89,1227.36 329.93,1224.38" fill="#000" stroke="#000" stroke-width="1.8" stroke-linejoin="round"/>
<line x1="417.1" y1="1095.7" x2="416.67" y2="1179.34" stroke="#000" stroke-width="2.7"/><polygon points="416.6,1191.4 410.69,1175.17 416.67,1178.26 422.69,1175.23" fill="#000" stroke="#000" stroke-width="1.8" stroke-linejoin="round"/>
<line x1="443.7" y1="1214.3" x2="436.1" y2="1268.57" stroke="#000" stroke-width="2.7"/><polygon points="434.42,1280.51 430.73,1263.63 436.25,1267.5 442.61,1265.3" fill="#000" stroke="#000" stroke-width="1.8" stroke-linejoin="round"/>
<line x1="460.6" y1="1286.3" x2="455.05" y2="1329.45" stroke="#000" stroke-width="2.7"/><polygon points="453.51,1341.41 449.63,1324.57 455.19,1328.37 461.53,1326.1" fill="#000" stroke="#000" stroke-width="1.8" stroke-linejoin="round"/>
<line x1="486.6" y1="1215.7" x2="486.6" y2="1281.94" stroke="#000" stroke-width="2.7"/><polygon points="486.6,1294 480.6,1277.8 486.6,1280.86 492.6,1277.8" fill="#000" stroke="#000" stroke-width="1.8" stroke-linejoin="round"/>
<line x1="553.4" y1="968" x2="526.95" y2="1060.94" stroke="#000" stroke-width="2.7"/><polygon points="523.65,1072.53 522.31,1055.31 527.24,1059.9 533.85,1058.6" fill="#000" stroke="#000" stroke-width="1.8" stroke-linejoin="round"/>
<line x1="617.9" y1="1246.4" x2="639.27" y2="1319.56" stroke="#000" stroke-width="2.7"/><polygon points="642.65,1331.14 632.35,1317.27 638.96,1318.52 643.87,1313.9" fill="#000" stroke="#000" stroke-width="1.8" stroke-linejoin="round"/>
<rect x="84" y="1507.5" width="591" height="561" fill="none" stroke="#000" stroke-width="1.9"/>
<g stroke="#000" stroke-width="1.5" fill="none">
<line x1="231.75" y1="2068.5" x2="231.75" y2="2061.5"/>
<line x1="231.75" y1="1507.5" x2="231.75" y2="1514.5"/>
<line x1="379.5" y1="2068.5" x2="379.5" y2="2061.5"/>
<line x1="379.5" y1="1507.5" x2="379.5" y2="1514.5"/>
<line x1="527.25" y1="2068.5" x2="527.25" y2="2061.5"/>
<line x1="527.25" y1="1507.5" x2="527.25" y2="1514.5"/>
<line x1="84" y1="1966.3" x2="91" y2="1966.3"/>
<line x1="675" y1="1966.3" x2="668" y2="1966.3"/>
<line x1="84" y1="1864.1" x2="91" y2="1864.1"/>
<line x1="675" y1="1864.1" x2="668" y2="1864.1"/>
<line x1="84" y1="1761.9" x2="91" y2="1761.9"/>
<line x1="675" y1="1761.9" x2="668" y2="1761.9"/>
<line x1="84" y1="1659.7" x2="91" y2="1659.7"/>
<line x1="675" y1="1659.7" x2="668" y2="1659.7"/>
<line x1="84" y1="1557.5" x2="91" y2="1557.5"/>
<line x1="675" y1="1557.5" x2="668" y2="1557.5"/>
</g>
<text x="80.6" y="2100.6" font-family="'Liberation Serif', serif" font-size="30.6" text-anchor="middle" fill="#000" stroke="#000" stroke-width="0.45" stroke-linejoin="round" >-10</text>
<text x="227" y="2100.6" font-family="'Liberation Serif', serif" font-size="30.6" text-anchor="middle" fill="#000" stroke="#000" stroke-width="0.45" stroke-linejoin="round" >-5</text>
<text x="379" y="2100.6" font-family="'Liberation Serif', serif" font-size="30.6" text-anchor="middle" fill="#000" stroke="#000" stroke-width="0.45" stroke-linejoin="round" >0</text>
<text x="525.7" y="2100.6" font-family="'Liberation Serif', serif" font-size="30.6" text-anchor="middle" fill="#000" stroke="#000" stroke-width="0.45" stroke-linejoin="round" >5</text>
<text x="674.5" y="2100.6" font-family="'Liberation Serif', serif" font-size="30.6" text-anchor="middle" fill="#000" stroke="#000" stroke-width="0.45" stroke-linejoin="round" >10</text>
<text x="0" y="0" font-family="'Liberation Serif', serif" font-size="30.8" text-anchor="end" fill="#000" stroke="#000" stroke-width="0.45" stroke-linejoin="round"  transform="translate(77.6,2079.7) scale(0.97,1)">0</text>
<text x="0" y="0" font-family="'Liberation Serif', serif" font-size="30.8" text-anchor="end" fill="#000" stroke="#000" stroke-width="0.45" stroke-linejoin="round"  transform="translate(77.6,1977.5) scale(0.97,1)">0.2</text>
<text x="0" y="0" font-family="'Liberation Serif', serif" font-size="30.8" text-anchor="end" fill="#000" stroke="#000" stroke-width="0.45" stroke-linejoin="round"  transform="translate(77.6,1875.3) scale(0.97,1)">0.4</text>
<text x="0" y="0" font-family="'Liberation Serif', serif" font-size="30.8" text-anchor="end" fill="#000" stroke="#000" stroke-width="0.45" stroke-linejoin="round"  transform="translate(77.6,1773.1) scale(0.97,1)">0.6</text>
<text x="0" y="0" font-family="'Liberation Serif', serif" font-size="30.8" text-anchor="end" fill="#000" stroke="#000" stroke-width="0.45" stroke-linejoin="round"  transform="translate(77.6,1670.9) scale(0.97,1)">0.8</text>
<text x="0" y="0" font-family="'Liberation Serif', serif" font-size="30.8" text-anchor="end" fill="#000" stroke="#000" stroke-width="0.45" stroke-linejoin="round"  transform="translate(77.6,1568.7) scale(0.97,1)">1</text>
<text x="335.8" y="2130.8" font-family="'Liberation Serif', serif" font-size="31.8" text-anchor="start" fill="#000" textLength="83" lengthAdjust="spacingAndGlyphs" stroke="#000" stroke-width="0.45" stroke-linejoin="round" >Z (cm)</text>
<text x="169.6" y="1546.2" font-family="'Liberation Serif', serif" font-size="31.5" text-anchor="start" fill="#000" textLength="386" lengthAdjust="spacingAndGlyphs" stroke="#000" stroke-width="0.45" stroke-linejoin="round" >#1030191 Profile Measurement</text>
<text x="605.8" y="1559.6" font-family="'Liberation Sans', sans-serif" font-size="38.4" text-anchor="start" fill="#000" textLength="42.6" lengthAdjust="spacingAndGlyphs" stroke="#000" stroke-width="0.6" stroke-linejoin="round" >(c)</text>
<g stroke="#a232ff" fill="none" stroke-width="2.3"><polyline points="105.7,1717.9 119.1,1738 133.2,1721.3 146.9,1711 160.5,1725.7 173.9,1698.9 187.5,1680.7 200.9,1656.5 223.5,1656.5 251.6,1666.5 264.9,1689.1 278.6,1653.9 292.2,1628.7 305.6,1644.1 319.2,1662.1 332.6,1651.1 346.7,1635.9 360.3,1645.4 373.7,1615.9 387.3,1644.1 401.2,1607.2 414.8,1617.1 428.3,1599.1 441.7,1627.4 455.3,1636.4 468.7,1642.1 482.8,1611.5 496.9,1614.1 530.5,1649.6 546.2,1683.4 560.3,1685.4 574.2,1692 587.6,1665.1 601.5,1690.5 614.6,1726 628,1751.7 641.6,1738.1" stroke-dasharray="7 3.4" stroke-width="2.6"/><path d="M105.7,1682.7V1752.9M100,1682.7H111.4M100,1752.9H111.4M119.1,1711V1765M113.4,1711H124.8M113.4,1765H124.8M133.2,1697.4V1745.7M127.5,1697.4H138.9M127.5,1745.7H138.9M146.9,1682.7V1739.3M141.2,1682.7H152.6M141.2,1739.3H152.6M160.5,1697.4V1753.4M154.8,1697.4H166.2M154.8,1753.4H166.2M173.9,1669.9V1725.7M168.2,1669.9H179.6M168.2,1725.7H179.6M187.5,1659.6V1702M181.8,1659.6H193.2M181.8,1702H193.2M200.9,1634.4V1678.9M195.2,1634.4H206.6M195.2,1678.9H206.6M223.5,1627.4V1686.6M217.8,1627.4H229.2M217.8,1686.6H229.2M251.6,1619.2V1714.9M245.9,1619.2H257.3M245.9,1714.9H257.3M264.9,1659.6V1716.9M259.2,1659.6H270.6M259.2,1716.9H270.6M278.6,1627.4V1681.4M272.9,1627.4H284.3M272.9,1681.4H284.3M292.2,1585V1670.6M286.5,1585H297.9M286.5,1670.6H297.9M305.6,1609.4V1680.1M299.9,1609.4H311.3M299.9,1680.1H311.3M319.2,1635.1V1687.9M313.5,1635.1H324.9M313.5,1687.9H324.9M332.6,1621.8V1678.9M326.9,1621.8H338.3M326.9,1678.9H338.3M346.7,1599.1V1672.4M341,1599.1H352.4M341,1672.4H352.4M360.3,1609.9V1680.1M354.6,1609.9H366M354.6,1680.1H366M373.7,1575.5V1654.9M368,1575.5H379.4M368,1654.9H379.4M387.3,1620.5V1668M381.6,1620.5H393M381.6,1668H393M401.2,1574.2V1639M395.5,1574.2H406.9M395.5,1639H406.9M414.8,1578.1V1654.9M409.1,1578.1H420.5M409.1,1654.9H420.5M428.3,1565.2V1632.6M422.6,1565.2H434M422.6,1632.6H434M441.7,1575.5V1680.1M436,1575.5H447.4M436,1680.1H447.4M455.3,1593.5V1677.6M449.6,1593.5H461M449.6,1677.6H461M468.7,1615.1V1668M463,1615.1H474.4M463,1668H474.4M482.8,1570.3V1651.9M477.1,1570.3H488.5M477.1,1651.9H488.5M496.9,1551.6V1674.2M491.2,1551.6H502.6M491.2,1674.2H502.6M530.5,1604.7V1694.5M524.8,1604.7H536.2M524.8,1694.5H536.2M546.2,1644.2V1725M540.5,1644.2H551.9M540.5,1725H551.9M560.3,1651.9V1720M554.6,1651.9H566M554.6,1720H566M574.2,1661.5V1721.4M568.5,1661.5H579.9M568.5,1721.4H579.9M587.6,1638.1V1694.6M581.9,1638.1H593.3M581.9,1694.6H593.3M601.5,1664.3V1717M595.8,1664.3H607.2M595.8,1717H607.2M614.6,1693.1V1759.4M608.9,1693.1H620.3M608.9,1759.4H620.3M628,1730.6V1771.8M622.3,1730.6H633.7M622.3,1771.8H633.7M641.6,1718.3V1758.7M635.9,1718.3H647.3M635.9,1758.7H647.3"/></g><g fill="#a232ff" stroke="none"><path d="M105.7,1709.3l8,8.6l-8,8.6l-8,-8.6z"/><path d="M119.1,1729.4l8,8.6l-8,8.6l-8,-8.6z"/><path d="M133.2,1712.7l8,8.6l-8,8.6l-8,-8.6z"/><path d="M146.9,1702.4l8,8.6l-8,8.6l-8,-8.6z"/><path d="M160.5,1717.1l8,8.6l-8,8.6l-8,-8.6z"/><path d="M173.9,1690.3l8,8.6l-8,8.6l-8,-8.6z"/><path d="M187.5,1672.1l8,8.6l-8,8.6l-8,-8.6z"/><path d="M200.9,1647.9l8,8.6l-8,8.6l-8,-8.6z"/><path d="M223.5,1647.9l8,8.6l-8,8.6l-8,-8.6z"/><path d="M251.6,1657.9l8,8.6l-8,8.6l-8,-8.6z"/><path d="M264.9,1680.5l8,8.6l-8,8.6l-8,-8.6z"/><path d="M278.6,1645.3l8,8.6l-8,8.6l-8,-8.6z"/><path d="M292.2,1620.1l8,8.6l-8,8.6l-8,-8.6z"/><path d="M305.6,1635.5l8,8.6l-8,8.6l-8,-8.6z"/><path d="M319.2,1653.5l8,8.6l-8,8.6l-8,-8.6z"/><path d="M332.6,1642.5l8,8.6l-8,8.6l-8,-8.6z"/><path d="M346.7,1627.3l8,8.6l-8,8.6l-8,-8.6z"/><path d="M360.3,1636.8l8,8.6l-8,8.6l-8,-8.6z"/><path d="M373.7,1607.3l8,8.6l-8,8.6l-8,-8.6z"/><path d="M387.3,1635.5l8,8.6l-8,8.6l-8,-8.6z"/><path d="M401.2,1598.6l8,8.6l-8,8.6l-8,-8.6z"/><path d="M414.8,1608.5l8,8.6l-8,8.6l-8,-8.6z"/><path d="M428.3,1590.5l8,8.6l-8,8.6l-8,-8.6z"/><path d="M441.7,1618.8l8,8.6l-8,8.6l-8,-8.6z"/><path d="M455.3,1627.8l8,8.6l-8,8.6l-8,-8.6z"/><path d="M468.7,1633.5l8,8.6l-8,8.6l-8,-8.6z"/><path d="M482.8,1602.9l8,8.6l-8,8.6l-8,-8.6z"/><path d="M496.9,1605.5l8,8.6l-8,8.6l-8,-8.6z"/><path d="M530.5,1641l8,8.6l-8,8.6l-8,-8.6z"/><path d="M546.2,1674.8l8,8.6l-8,8.6l-8,-8.6z"/><path d="M560.3,1676.8l8,8.6l-8,8.6l-8,-8.6z"/><path d="M574.2,1683.4l8,8.6l-8,8.6l-8,-8.6z"/><path d="M587.6,1656.5l8,8.6l-8,8.6l-8,-8.6z"/><path d="M601.5,1681.9l8,8.6l-8,8.6l-8,-8.6z"/><path d="M614.6,1717.4l8,8.6l-8,8.6l-8,-8.6z"/><path d="M628,1743.1l8,8.6l-8,8.6l-8,-8.6z"/><path d="M641.6,1729.5l8,8.6l-8,8.6l-8,-8.6z"/></g>
<g stroke="#1f3cff" fill="none" stroke-width="2.3"><polyline points="105.7,1838.4 119.1,1863.6 133.2,1849.2 146.9,1855.1 160.5,1860.8 173.9,1776.7 187.5,1774.1 200.9,1814 223.5,1826.3 251.6,1818 264.9,1840.7 278.6,1795.7 292.2,1821.4 305.6,1729.2 319.2,1804.7 332.6,1742.8 346.7,1785.5 360.3,1786.2 373.7,1814.5 387.3,1827.1 401.2,1737.3 414.8,1714.8 428.3,1825.6 441.7,1821.5 455.3,1863.5 468.7,1778.4 482.8,1852.6 496.9,1858 530.5,1812.1 546.2,1747 560.3,1773 574.2,1772.2 587.6,1746.1 601.5,1798.5 614.6,1862.4 628,1843.7 641.6,1859.4" stroke-dasharray="7 3.4" stroke-width="2.6"/><path d="M105.7,1787V1888.1M100,1787H111.4M100,1888.1H111.4M119.1,1820.4V1905.3M113.4,1820.4H124.8M113.4,1905.3H124.8M133.2,1814V1882.9M127.5,1814H138.9M127.5,1882.9H138.9M146.9,1817.9V1890.6M141.2,1817.9H152.6M141.2,1890.6H152.6M160.5,1821.2V1900.9M154.8,1821.2H166.2M154.8,1900.9H166.2M173.9,1731.6V1819.1M168.2,1731.6H179.6M168.2,1819.1H179.6M187.5,1745.7V1801.9M181.8,1745.7H193.2M181.8,1801.9H193.2M200.9,1791.4V1834.6M195.2,1791.4H206.6M195.2,1834.6H206.6M223.5,1799.1V1852M217.8,1799.1H229.2M217.8,1852H229.2M251.6,1770V1867M245.9,1770H257.3M245.9,1867H257.3M264.9,1807.8V1871.6M259.2,1807.8H270.6M259.2,1871.6H270.6M278.6,1768.5V1821.9M272.9,1768.5H284.3M272.9,1821.9H284.3M292.2,1789.1V1854.1M286.5,1789.1H297.9M286.5,1854.1H297.9M305.6,1689V1769.2M299.9,1689H311.3M299.9,1769.2H311.3M319.2,1777V1831.7M313.5,1777H324.9M313.5,1831.7H324.9M332.6,1711.3V1774.8M326.9,1711.3H338.3M326.9,1774.8H338.3M346.7,1752V1817.6M341,1752H352.4M341,1817.6H352.4M360.3,1753.3V1820.1M354.6,1753.3H366M354.6,1820.1H366M373.7,1786.8V1842.5M368,1786.8H379.4M368,1842.5H379.4M387.3,1806.5V1847.1M381.6,1806.5H393M381.6,1847.1H393M401.2,1708.1V1765M395.5,1708.1H406.9M395.5,1765H406.9M414.8,1677V1752.7M409.1,1677H420.5M409.1,1752.7H420.5M428.3,1806V1847M422.6,1806H434M422.6,1847H434M441.7,1781.7V1859.1M436,1781.7H447.4M436,1859.1H447.4M455.3,1835.9V1893.3M449.6,1835.9H461M449.6,1893.3H461M468.7,1753.4V1803.4M463,1753.4H474.4M463,1803.4H474.4M482.8,1829V1877.1M477.1,1829H488.5M477.1,1877.1H488.5M496.9,1821.3V1894.6M491.2,1821.3H502.6M491.2,1894.6H502.6M530.5,1771V1852.8M524.8,1771H536.2M524.8,1852.8H536.2M546.2,1688.3V1806.2M540.5,1688.3H551.9M540.5,1806.2H551.9M560.3,1725.5V1819.9M554.6,1725.5H566M554.6,1819.9H566M574.2,1729V1815.5M568.5,1729H579.9M568.5,1815.5H579.9M587.6,1710.6V1782.1M581.9,1710.6H593.3M581.9,1782.1H593.3M601.5,1765.1V1832.5M595.8,1765.1H607.2M595.8,1832.5H607.2M614.6,1815.5V1908.7M608.9,1815.5H620.3M608.9,1908.7H620.3M628,1803.1V1882.5M622.3,1803.1H633.7M622.3,1882.5H633.7M641.6,1828V1890.7M635.9,1828H647.3M635.9,1890.7H647.3"/></g><g fill="#1f3cff" stroke="none"><rect x="98.8" y="1831.5" width="13.8" height="13.8"/><rect x="112.2" y="1856.7" width="13.8" height="13.8"/><rect x="126.3" y="1842.3" width="13.8" height="13.8"/><rect x="140" y="1848.2" width="13.8" height="13.8"/><rect x="153.6" y="1853.9" width="13.8" height="13.8"/><rect x="167" y="1769.8" width="13.8" height="13.8"/><rect x="180.6" y="1767.2" width="13.8" height="13.8"/><rect x="194" y="1807.1" width="13.8" height="13.8"/><rect x="216.6" y="1819.4" width="13.8" height="13.8"/><rect x="244.7" y="1811.1" width="13.8" height="13.8"/><rect x="258" y="1833.8" width="13.8" height="13.8"/><rect x="271.7" y="1788.8" width="13.8" height="13.8"/><rect x="285.3" y="1814.5" width="13.8" height="13.8"/><rect x="298.7" y="1722.3" width="13.8" height="13.8"/><rect x="312.3" y="1797.8" width="13.8" height="13.8"/><rect x="325.7" y="1735.9" width="13.8" height="13.8"/><rect x="339.8" y="1778.6" width="13.8" height="13.8"/><rect x="353.4" y="1779.3" width="13.8" height="13.8"/><rect x="366.8" y="1807.6" width="13.8" height="13.8"/><rect x="380.4" y="1820.2" width="13.8" height="13.8"/><rect x="394.3" y="1730.4" width="13.8" height="13.8"/><rect x="407.9" y="1707.9" width="13.8" height="13.8"/><rect x="421.4" y="1818.7" width="13.8" height="13.8"/><rect x="434.8" y="1814.6" width="13.8" height="13.8"/><rect x="448.4" y="1856.6" width="13.8" height="13.8"/><rect x="461.8" y="1771.5" width="13.8" height="13.8"/><rect x="475.9" y="1845.7" width="13.8" height="13.8"/><rect x="490" y="1851.1" width="13.8" height="13.8"/><rect x="523.6" y="1805.2" width="13.8" height="13.8"/><rect x="539.3" y="1740.1" width="13.8" height="13.8"/><rect x="553.4" y="1766.1" width="13.8" height="13.8"/><rect x="567.3" y="1765.3" width="13.8" height="13.8"/><rect x="580.7" y="1739.2" width="13.8" height="13.8"/><rect x="594.6" y="1791.6" width="13.8" height="13.8"/><rect x="607.7" y="1855.5" width="13.8" height="13.8"/><rect x="621.1" y="1836.8" width="13.8" height="13.8"/><rect x="634.7" y="1852.5" width="13.8" height="13.8"/></g>
<g stroke="#000" fill="none" stroke-width="2.3"><polyline points="105.7,2063 119.1,2062.4 133.2,2056 146.9,2049.6 160.5,2044.4 173.9,2022.6 187.5,2001.2 200.9,1988.4 223.5,1976.8 251.6,1977.8 264.9,1986.4 278.6,1953 292.2,1956.9 305.6,1910.1 319.2,1938.5 332.6,1905.6 346.7,1911.2 360.3,1891.3 373.7,1878.6 387.3,1921.3 401.2,1872.2 414.8,1859.1 428.3,1901 441.7,1919.8 455.3,1952.9 468.7,1929.3 482.8,1942.1 496.9,1950.6 530.5,1972.2 546.2,1986.6 560.3,1998.4 574.2,2010.5 587.6,2012.9 601.5,2032.1 614.6,2051.4 628,2055.3 641.6,2060.4" stroke-dasharray="7 3.4" stroke-width="2.6"/><path d="M105.7,2061V2065M100,2061H111.4M100,2065H111.4M119.1,2060V2065M113.4,2060H124.8M113.4,2065H124.8M133.2,2052V2060M127.5,2052H138.9M127.5,2060H138.9M146.9,2043.1V2058.6M141.2,2043.1H152.6M141.2,2058.6H152.6M160.5,2032.9V2053.9M154.8,2032.9H166.2M154.8,2053.9H166.2M173.9,2009.6V2035.4M168.2,2009.6H179.6M168.2,2035.4H179.6M187.5,1988.4V2013M181.8,1988.4H193.2M181.8,2013H193.2M200.9,1973.8V2001.8M195.2,1973.8H206.6M195.2,2001.8H206.6M223.5,1954.9V1996.7M217.8,1954.9H229.2M217.8,1996.7H229.2M251.6,1941.7V2012.9M245.9,1941.7H257.3M245.9,2012.9H257.3M264.9,1962V2009.6M259.2,1962H270.6M259.2,2009.6H270.6M278.6,1929.9V1974.9M272.9,1929.9H284.3M272.9,1974.9H284.3M292.2,1927.9V1987.7M286.5,1927.9H297.9M286.5,1987.7H297.9M305.6,1876.6V1942.7M299.9,1876.6H311.3M299.9,1942.7H311.3M319.2,1912.9V1964.6M313.5,1912.9H324.9M313.5,1964.6H324.9M332.6,1876.6V1934.1M326.9,1876.6H338.3M326.9,1934.1H338.3M346.7,1876.6V1946.1M341,1876.6H352.4M341,1946.1H352.4M360.3,1850.4V1930.9M354.6,1850.4H366M354.6,1930.9H366M373.7,1835.8V1920.6M368,1835.8H379.4M368,1920.6H379.4M387.3,1896.8V1946.6M381.6,1896.8H393M381.6,1946.6H393M401.2,1841.3V1901.6M395.5,1841.3H406.9M395.5,1901.6H406.9M414.8,1820.1V1898.2M409.1,1820.1H420.5M409.1,1898.2H420.5M428.3,1871.9V1931.1M422.6,1871.9H434M422.6,1931.1H434M441.7,1872.7V1967.9M436,1872.7H447.4M436,1967.9H447.4M455.3,1916.9V1990.2M449.6,1916.9H461M449.6,1990.2H461M468.7,1905.4V1952.4M463,1905.4H474.4M463,1952.4H474.4M482.8,1910.5V1973.8M477.1,1910.5H488.5M477.1,1973.8H488.5M496.9,1903.6V1996.1M491.2,1903.6H502.6M491.2,1996.1H502.6M530.5,1940.3V2002.1M524.8,1940.3H536.2M524.8,2002.1H536.2M546.2,1959.6V2012.9M540.5,1959.6H551.9M540.5,2012.9H551.9M560.3,1978.1V2019.3M554.6,1978.1H566M554.6,2019.3H566M574.2,1996.1V2025.7M568.5,1996.1H579.9M568.5,2025.7H579.9M587.6,2002.6V2023.9M581.9,2002.6H593.3M581.9,2023.9H593.3M601.5,2024.4V2040.4M595.8,2024.4H607.2M595.8,2040.4H607.2M614.6,2041.7V2060.4M608.9,2041.7H620.3M608.9,2060.4H620.3M628,2051V2060M622.3,2051H633.7M622.3,2060H633.7M641.6,2057V2064M635.9,2057H647.3M635.9,2064H647.3"/></g><g fill="#000" stroke="none"><path d="M95.9,2057.4h19.6l-9.8,14.4z"/><path d="M109.3,2056.8h19.6l-9.8,14.4z"/><path d="M123.4,2050.4h19.6l-9.8,14.4z"/><path d="M137.1,2044h19.6l-9.8,14.4z"/><path d="M150.7,2038.8h19.6l-9.8,14.4z"/><path d="M164.1,2017h19.6l-9.8,14.4z"/><path d="M177.7,1995.6h19.6l-9.8,14.4z"/><path d="M191.1,1982.8h19.6l-9.8,14.4z"/><path d="M213.7,1971.2h19.6l-9.8,14.4z"/><path d="M241.8,1972.2h19.6l-9.8,14.4z"/><path d="M255.1,1980.8h19.6l-9.8,14.4z"/><path d="M268.8,1947.4h19.6l-9.8,14.4z"/><path d="M282.4,1951.3h19.6l-9.8,14.4z"/><path d="M295.8,1904.5h19.6l-9.8,14.4z"/><path d="M309.4,1932.9h19.6l-9.8,14.4z"/><path d="M322.8,1900h19.6l-9.8,14.4z"/><path d="M336.9,1905.6h19.6l-9.8,14.4z"/><path d="M350.5,1885.7h19.6l-9.8,14.4z"/><path d="M363.9,1873h19.6l-9.8,14.4z"/><path d="M377.5,1915.7h19.6l-9.8,14.4z"/><path d="M391.4,1866.6h19.6l-9.8,14.4z"/><path d="M405,1853.5h19.6l-9.8,14.4z"/><path d="M418.5,1895.4h19.6l-9.8,14.4z"/><path d="M431.9,1914.2h19.6l-9.8,14.4z"/><path d="M445.5,1947.3h19.6l-9.8,14.4z"/><path d="M458.9,1923.7h19.6l-9.8,14.4z"/><path d="M473,1936.5h19.6l-9.8,14.4z"/><path d="M487.1,1945h19.6l-9.8,14.4z"/><path d="M520.7,1966.6h19.6l-9.8,14.4z"/><path d="M536.4,1981h19.6l-9.8,14.4z"/><path d="M550.5,1992.8h19.6l-9.8,14.4z"/><path d="M564.4,2004.9h19.6l-9.8,14.4z"/><path d="M577.8,2007.3h19.6l-9.8,14.4z"/><path d="M591.7,2026.5h19.6l-9.8,14.4z"/><path d="M604.8,2045.8h19.6l-9.8,14.4z"/><path d="M618.2,2049.7h19.6l-9.8,14.4z"/><path d="M631.8,2054.8h19.6l-9.8,14.4z"/></g>
<text x="101" y="1606.5" font-family="'Liberation Sans', sans-serif" font-size="29.5" text-anchor="start" fill="#a232ff" stroke="#a232ff" stroke-width="0.6" stroke-linejoin="round" >T</text><text x="119.2" y="1622.6" font-family="'Liberation Sans', sans-serif" font-size="26.5" text-anchor="start" fill="#a232ff" stroke="#a232ff" stroke-width="0.6" stroke-linejoin="round" >e</text><text x="142" y="1606.5" font-family="'Liberation Sans', sans-serif" font-size="29.5" text-anchor="start" fill="#a232ff" textLength="71.2" lengthAdjust="spacingAndGlyphs" stroke="#a232ff" stroke-width="0.6" stroke-linejoin="round" >(keV)</text>
<text x="89" y="1931.8" font-family="'Liberation Sans', sans-serif" font-size="29.5" text-anchor="start" fill="#1f3cff" stroke="#1f3cff" stroke-width="0.6" stroke-linejoin="round" >T</text><text x="106.2" y="1948.4" font-family="'Liberation Sans', sans-serif" font-size="26.5" text-anchor="start" fill="#1f3cff" stroke="#1f3cff" stroke-width="0.6" stroke-linejoin="round" >i</text><text x="120.2" y="1931.8" font-family="'Liberation Sans', sans-serif" font-size="29.5" text-anchor="start" fill="#1f3cff" textLength="72.5" lengthAdjust="spacingAndGlyphs" stroke="#1f3cff" stroke-width="0.6" stroke-linejoin="round" >(keV)</text>
<text x="373.4" y="2032.8" font-family="'Liberation Sans', sans-serif" font-size="29.5" text-anchor="start" fill="#000" stroke="#000" stroke-width="0.6" stroke-linejoin="round" >I</text><text x="382.4" y="2050" font-family="'Liberation Sans', sans-serif" font-size="26.5" text-anchor="start" fill="#000" stroke="#000" stroke-width="0.6" stroke-linejoin="round" >w</text><text x="408" y="2032.8" font-family="'Liberation Sans', sans-serif" font-size="29.5" text-anchor="start" fill="#000" textLength="69.4" lengthAdjust="spacingAndGlyphs" stroke="#000" stroke-width="0.6" stroke-linejoin="round" >(a.u.)</text>
<line x1="214.2" y1="1603.3" x2="231.42" y2="1611.37" stroke="#a232ff" stroke-width="2.6"/><polygon points="245.19,1617.82 223.4,1614.35 230.44,1610.91 228.58,1603.3" fill="#a232ff" stroke="#a232ff" stroke-width="1.8" stroke-linejoin="round"/>
<line x1="194.4" y1="1904" x2="220.51" y2="1864.96" stroke="#1f3cff" stroke-width="2.4"/><polygon points="227.4,1854.65 222.08,1871.78 219.91,1865.85 213.6,1866.11" fill="#1f3cff" stroke="#1f3cff" stroke-width="1.8" stroke-linejoin="round"/>
<line x1="427" y1="2003.9" x2="442.71" y2="1972.19" stroke="#000" stroke-width="2.4"/><polygon points="447.9,1961.71 445.28,1978.49 442.23,1973.16 436.14,1973.96" fill="#000" stroke="#000" stroke-width="1.8" stroke-linejoin="round"/>
</svg></body></html>
